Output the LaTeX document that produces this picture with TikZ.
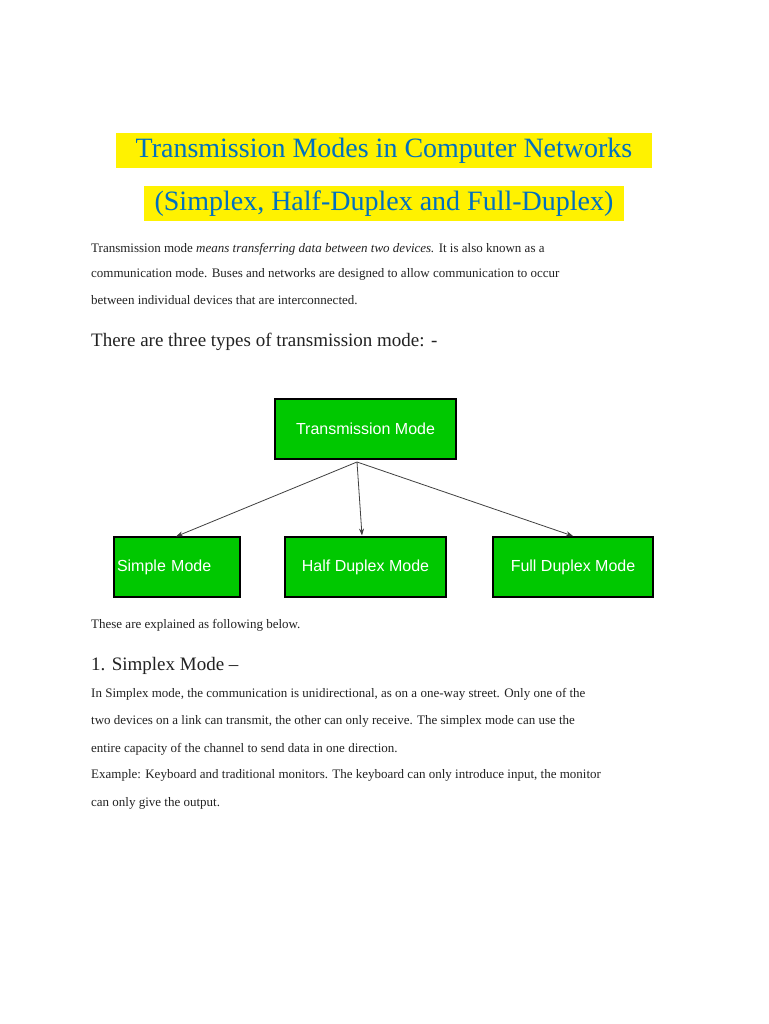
\documentclass[tikz,border=0pt]{standalone}
\usepackage{fontspec}
\setmainfont{Liberation Serif}
\newfontfamily\boxfont{Liberation Sans}
\usetikzlibrary{arrows.meta}
\definecolor{titleblue}{HTML}{0070C0}
\definecolor{boxgreen}{HTML}{00C800}
\definecolor{bodytext}{HTML}{222222}
\tikzset{
  titlebox/.style={fill=yellow,text=titleblue,font=\fontsize{28}{30}\selectfont,inner xsep=2pt,inner ysep=3pt},
  bodyline/.style={anchor=base west,text=bodytext,font=\fontsize{13}{15}\selectfont,inner sep=0pt},
  headline/.style={anchor=base west,text=bodytext,font=\fontsize{19}{21}\selectfont,inner sep=0pt},
  modebox/.style={draw=black,line width=2.2pt,fill=boxgreen,text=white,font=\boxfont\fontsize{16}{18}\selectfont,inner sep=0pt},
  arr/.style={-{Stealth[length=7pt,width=5pt]},draw=black!75,line width=0.8pt}
}
\begin{document}
\begin{tikzpicture}[x=1pt,y=-1pt]
\useasboundingbox[fill=white] (0,0) rectangle (768,1024);
\node[titlebox,minimum width=536pt,minimum height=35pt] (t1) at (384,150.5) {Transmission Modes in Computer Networks};
\node[titlebox,minimum width=480pt,minimum height=35pt] (t2) at (384,203.5) {(Simplex, Half-Duplex and Full-Duplex)};
\node[bodyline] (p1) at (91,252) {Transmission mode \textit{means transferring data between two devices.} It is also known as a};
\node[bodyline] (p2) at (91,277) {communication mode. Buses and networks are designed to allow communication to occur};
\node[bodyline] (p3) at (91,304) {between individual devices that are interconnected.};
\node[headline] (h1) at (91,346) {There are three types of transmission mode: -};
\node[modebox,minimum width=181pt,minimum height=60pt] (tm) at (365.5,429) {Transmission Mode};
\node[modebox,minimum width=126pt,minimum height=60pt,text width=120pt,align=left] (sm) at (177,567) {Simple Mode};
\node[modebox,minimum width=161pt,minimum height=60pt] (hd) at (365.5,567) {Half Duplex Mode};
\node[modebox,minimum width=160pt,minimum height=60pt] (fd) at (573,567) {Full Duplex Mode};
\coordinate (src) at (357,462);
\draw[arr] (src) -- (176,536.5);
\draw[arr] (src) -- (362,535.5);
\draw[arr] (src) -- (573,536);
\node[bodyline] (p4) at (91,628) {These are explained as following below.};
\node[headline] (h2) at (91,670) {1. Simplex Mode –};
\node[bodyline] (p5) at (91,697) {In Simplex mode, the communication is unidirectional, as on a one-way street. Only one of the};
\node[bodyline] (p6) at (91,724) {two devices on a link can transmit, the other can only receive. The simplex mode can use the};
\node[bodyline] (p7) at (91,752) {entire capacity of the channel to send data in one direction.};
\node[bodyline] (p8) at (91,778) {Example: Keyboard and traditional monitors. The keyboard can only introduce input, the monitor};
\node[bodyline] (p9) at (91,806) {can only give the output.};
\end{tikzpicture}
\end{document}
